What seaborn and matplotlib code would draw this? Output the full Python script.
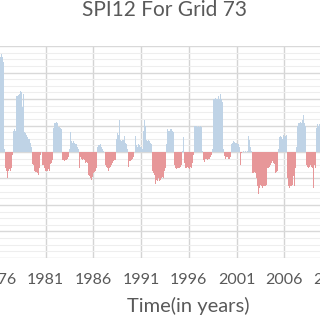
import matplotlib
matplotlib.use("Agg")
import matplotlib.pyplot as plt
import numpy as np
import pandas as pd
import seaborn as sns

# monthly SPI12 values, one line per year (Jan..Dec)
spi_70s = [
    3.3, 3.4, 3.5, 3.6, 3.7, 3.6, 3.4, 3.0, 0.1, -0.6, -0.7, -1.0,          # 1976
    -0.7, -0.7, -0.65, -0.7, -0.6, -0.5, -0.1, 0.8, 0.85, 0.8, 1.9, 2.1,    # 1977
    2.1, 2.15, 2.2, 2.2, 2.3, 2.25, 1.7, 1.6, 2.2, 0.75, 0.7, 0.65,         # 1978
    0.55, 0.55, 0.5, 0.5, 0.35, 0.3, 0.2, -0.45, -0.5, -0.7, -0.75, -0.75,  # 1979
]
spi_80s = [
    -0.75, -0.8, -0.85, -0.8, -0.6, -0.1, 0.0, -0.5, -0.55, -0.5, -0.6, -0.7,  # 1980
    -0.7, -0.75, -0.7, -0.65, -0.7, -0.6, -0.45, -0.4, -0.3, 0.9, 1.1, 1.1,    # 1981
    1.1, 1.15, 1.1, 1.05, 0.95, 0.95, 0.9, 0.85, -0.1, -0.3, -0.3, -0.35,      # 1982
    -0.3, -0.35, -0.3, -0.25, -0.2, 0.1, 0.35, 0.75, 0.4, 0.35, 0.4, 0.35,     # 1983
    0.35, 0.3, 0.3, 0.2, 0.2, 0.1, -0.6, -0.2, -0.25, -0.25, -0.3, -0.25,      # 1984
    -0.3, -0.38, -0.4, -0.38, -0.4, -0.85, -0.95, -0.9, -1.0, -1.07, -0.95, -0.9,  # 1985
    -0.8, -0.75, -0.7, -0.6, -0.1, 0.2, 0.25, 0.25, 0.3, 0.25, 0.2, 0.1,       # 1986
    0.05, 0.0, -0.45, -0.5, -0.55, -0.6, -0.7, -0.9, -0.6, -0.55, -0.5, -0.45, # 1987
    -0.4, -0.35, -0.3, -0.3, -0.2, 0.5, 0.7, 0.65, 1.2, 0.7, 0.45, 0.4,        # 1988
    0.45, 0.45, 0.4, 0.6, 0.35, 0.3, 0.1, -0.3, -0.55, -0.35, -0.35, -0.3,     # 1989
]
spi_90s = [
    -0.3, -0.25, -0.2, 0.0, 0.6, 0.15, 0.25, 0.2, 0.3, 0.25, 0.3, 0.2,         # 1990
    0.2, 0.1, -0.25, 0.8, 1.2, 1.0, 0.45, 0.45, 0.4, 0.45, 0.4, 0.35,          # 1991
    0.4, 0.3, -0.7, -0.8, -0.85, -1.95, -1.2, -1.05, -1.1, -1.0, -1.05, -1.1,  # 1992
    -1.05, -1.0, -0.95, -0.75, -1.0, -0.7, -0.6, 0.3, 0.9, 0.85, 0.8, 0.8,     # 1993
    0.85, 0.9, 0.85, 0.8, 0.75, 0.7, -0.5, -0.6, -0.65, -0.6, -0.55, -0.6,     # 1994
    -0.6, -0.55, -0.5, -0.1, 0.05, 0.55, -0.4, -0.6, -0.65, -0.6, -0.55, -0.6, # 1995
    -0.65, -0.6, -0.55, -0.6, -0.4, -0.1, 0.95, 1.0, 1.0, 1.0, 0.95, 1.0,      # 1996
    1.0, 0.95, 1.0, 0.95, 0.9, 0.05, -0.3, -0.38, -0.25, -0.2, -0.25, -0.3,    # 1997
    -0.25, -0.3, -0.25, -0.2, -0.1, 0.1, 1.9, 2.0, 2.0, 2.05, 2.0, 2.1,        # 1998
    2.0, 2.1, 2.0, 2.2, 2.45, 2.0, 1.9, 0.1, -0.15, -0.2, -0.25, -0.2,         # 1999
]
spi_00s = [
    -0.2, -0.25, -0.2, -0.25, -0.2, 0.3, 0.35, 0.4, 0.4, 0.38, 0.35, 0.35,     # 2000
    0.35, 0.3, 0.3, 0.2, -1.2, -0.5, -0.05, 0.0, 0.05, -0.05, 0.0, 0.05,       # 2001
    0.0, 0.05, 0.3, 0.6, 0.45, 0.2, 0.05, -0.6, -0.8, -0.8, -0.75, -0.8,       # 2002
    -0.9, -1.0, -1.3, -1.6, -1.35, -1.3, -1.25, -1.3, -1.35, -1.3, -1.2, -1.3, # 2003
    -1.3, -1.25, -0.6, -0.55, -0.6, -0.55, -0.5, -0.55, -0.4, -0.35, -0.4, -0.45,  # 2004
    -0.75, -0.8, -0.75, -0.7, 0.1, 0.5, 0.55, 0.6, 0.55, 0.5, 0.6, 0.65,      # 2005
    0.55, 0.6, 0.65, 0.2, -1.0, -1.3, -1.35, -1.3, -1.35, -1.3, -1.25, -0.9,   # 2006
    -1.3, -1.2, -0.6, 0.2, 1.0, 1.1, 1.05, 1.1, 1.15, 1.1, 1.45, 1.2,          # 2007
    1.4, 1.1, 1.0, 0.3, -0.5, -0.55, -0.6, -0.55, -0.6, -0.5, -0.55, -0.6,     # 2008
    -1.35, -0.55, -0.5, -0.6, 0.9, 1.05, 1.1, 1.0, 1.05, 1.0, 1.0, 1.1,        # 2009
]
start_year = 1976
tick_years = [1976, 1981, 1986, 1991, 1996, 2001, 2006, 2011]

spi = spi_70s + spi_80s + spi_90s + spi_00s
months = np.arange(len(spi))
df = pd.DataFrame({
    "time": start_year + (months + 0.5) / 12,
    "spi": spi,
})
df["sign"] = np.where(df["spi"] >= 0, "wet", "dry")

sns.set_style("white")
plt.rcParams["font.family"] = ["Lato", "DejaVu Sans"]

fig = plt.figure(figsize=(3.2, 3.2), dpi=100)
# the chart is cropped on both sides: let the axes run past the figure edges
ax = fig.add_axes([-20 / 320, 0.194, 360 / 320, 0.662])

sns.barplot(data=df, x="time", y="spi", hue="sign", native_scale=True,
            palette={"wet": "#b9d3ec", "dry": "#f48a8c"}, dodge=False,
            width=1.0, errorbar=None, linewidth=0, legend=False, ax=ax)

ax.set_xticks(tick_years)
ax.set_xticklabels([str(y) for y in tick_years], fontsize=11.5, color="#595959")
ax.set_yticks(np.arange(-4, 5, 1))
ax.set_yticks(np.arange(-4, 4.01, 0.25), minor=True)
ax.set_yticklabels([])
ax.set_xlim(1974.11, 2011.85)
ax.set_ylim(-4, 4)
ax.tick_params(axis="both", which="both", length=0, pad=11)

ax.grid(axis="x", which="major", color="#d4d4d4", linewidth=1.0)
ax.grid(axis="y", which="major", color="#d9d9d9", linewidth=1.0)
ax.grid(axis="y", which="minor", color="#eeeeee", linewidth=0.8)
ax.set_axisbelow(True)
for s in ax.spines.values():
    s.set_visible(False)

ax.set_xlabel("Time(in years)", fontsize=14.5, color="#595959")
ax.xaxis.set_label_coords(208 / 360, -39 / 212)
ax.set_ylabel("")
fig.text(164 / 320, 1 - 10 / 320, "SPI12 For Grid 73", ha="center", va="center",
         fontsize=15, color="#595959")

fig.savefig("out.png", dpi=100)
